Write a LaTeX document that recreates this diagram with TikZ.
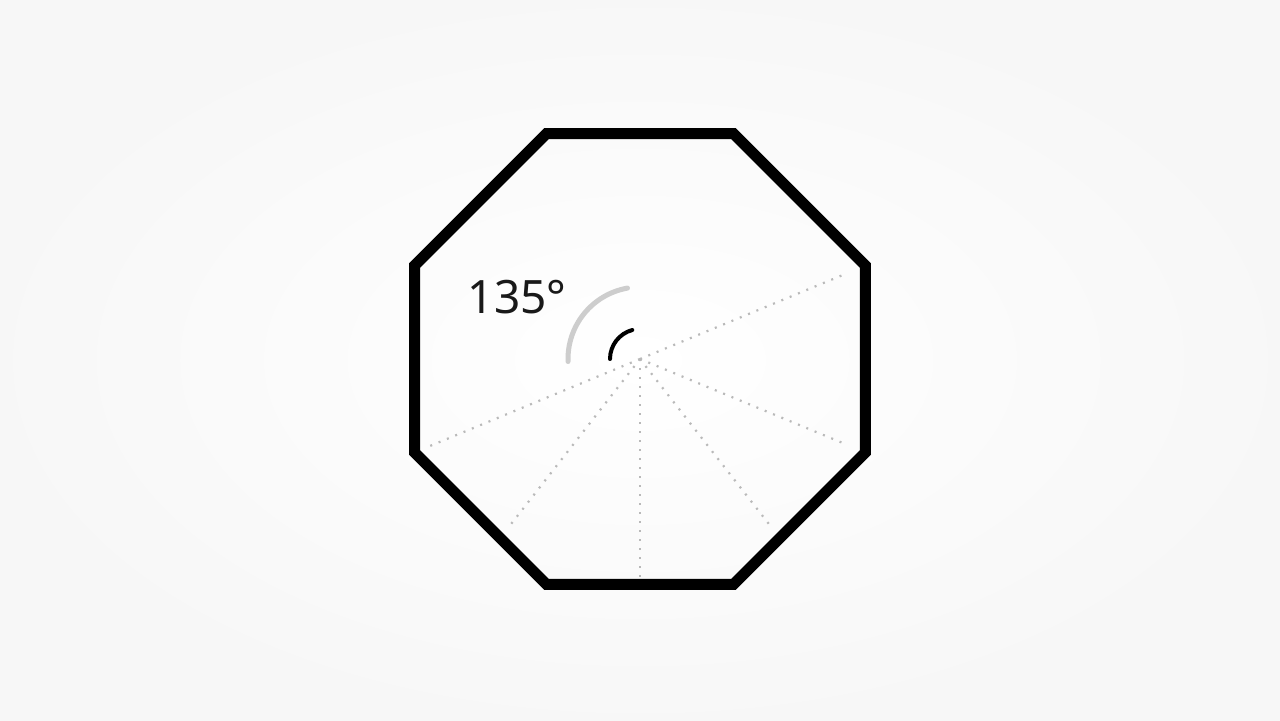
\documentclass[tikz,border=0pt]{standalone}
\usepackage{fontspec}
\setmainfont{Noto Sans}
\usetikzlibrary{positioning, calc}

\definecolor{guide}{RGB}{185,185,185}
\definecolor{arcgray}{RGB}{205,205,205}

\begin{document}
\begin{tikzpicture}[x=0.5pt, y=0.5pt,
    edge/.style={line width=5.5pt, line join=miter},
    guideline/.style={guide, line width=1.1pt, dash pattern=on 1pt off 3.5pt},
    anglearc/.style={line width=2pt, line cap=round}]
        \useasboundingbox (0,0) rectangle (1280,720);
        \shade[inner color=white, outer color=black!3] (0,0) rectangle (1280,720);
        \coordinate (O) at (640,361);
        \foreach \i in {0,...,7} {
            \coordinate (v\i) at ($(O)+(22.5+45*\i:244)$);
        }
        \draw [guideline] (O) -- ++(22.5:225);
        \draw [guideline] (O) -- ++(-22.5:225);
        \draw [guideline] (O) -- ++(-52:214);
        \draw [guideline] (O) -- ++(-90:220);
        \draw [guideline] (O) -- ++(-128:214);
        \draw [guideline] (O) -- ++(-157.5:232);
        \draw [edge] (v0) -- (v1) -- (v2) -- (v3) -- (v4) -- (v5) -- (v6) -- (v7) -- cycle;
        \draw [anglearc, arcgray, line width=2.5pt] ($(O)+(100:72)$) arc [start angle=100, end angle=182, radius=72];
        \draw [anglearc, black] ($(O)+(105:30)$) arc [start angle=105, end angle=180, radius=30];
        \node (angle) at (517,423) [text=black!90, font=\fontsize{23}{23}\selectfont] {135°};
    \end{tikzpicture}
\end{document}
